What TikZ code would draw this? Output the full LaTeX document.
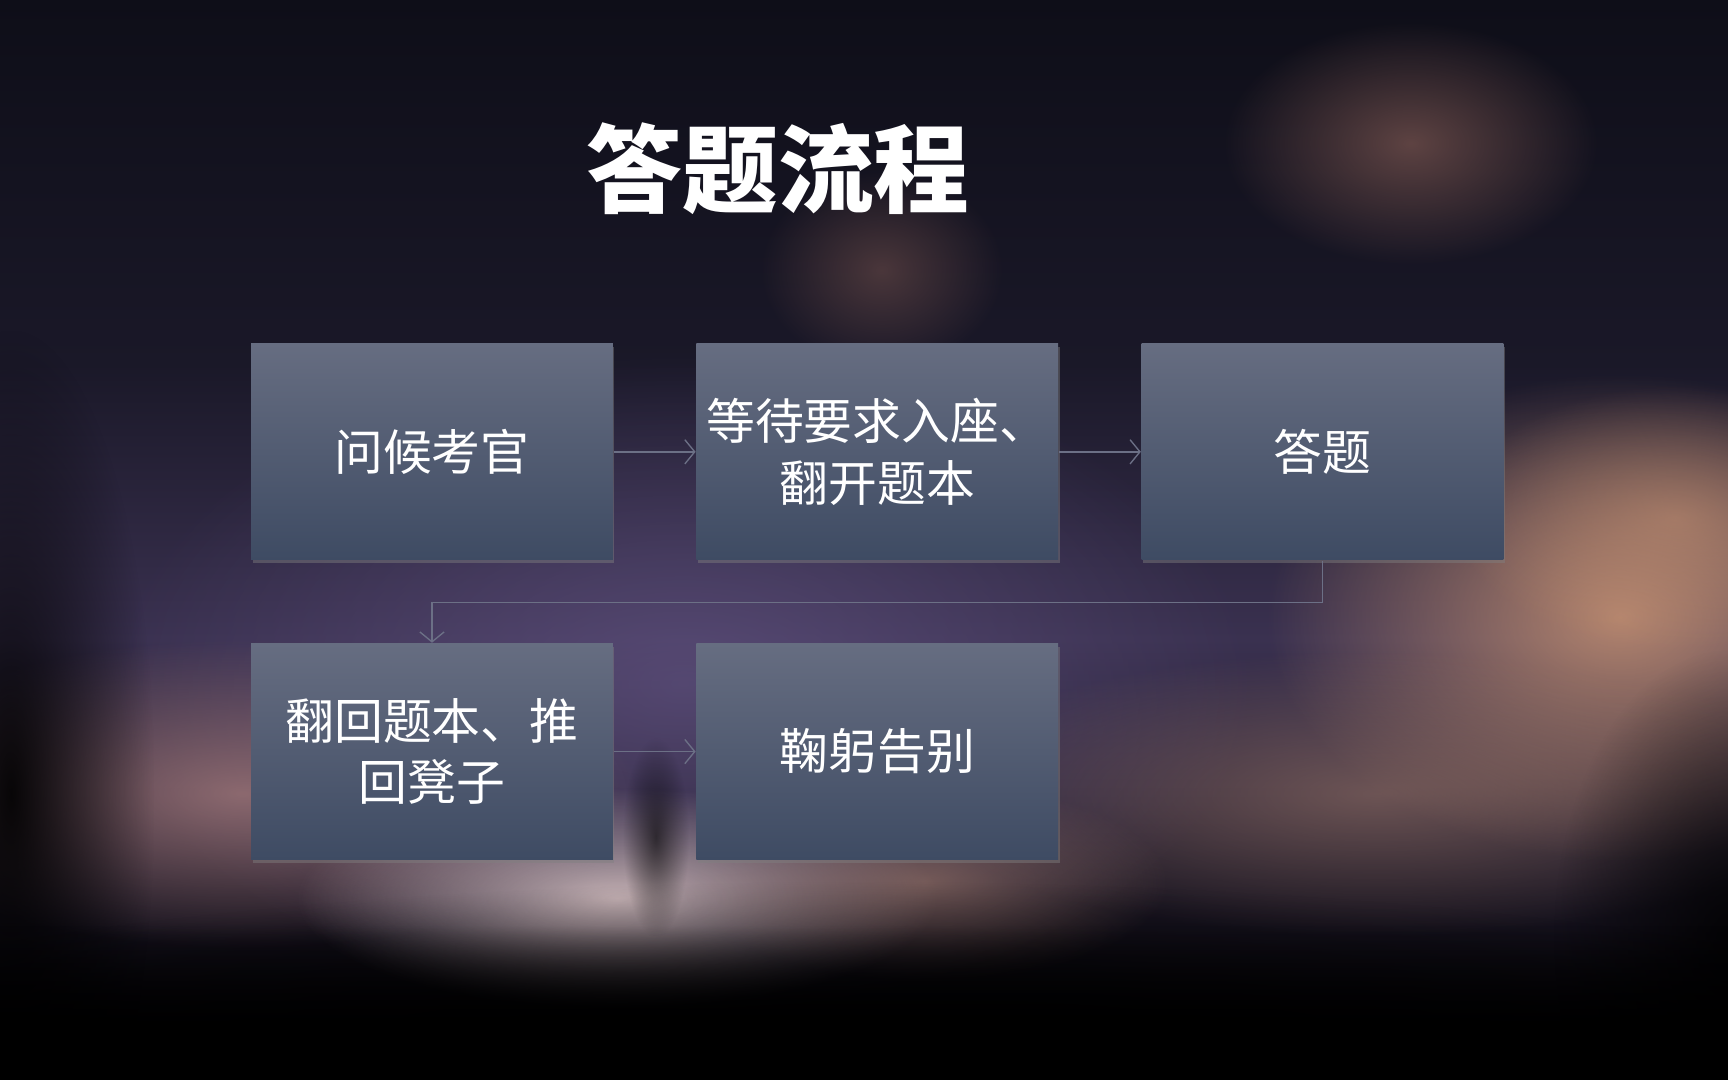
\documentclass[tikz,border=0pt]{standalone}
\usepackage{fontspec}
\setmainfont{Noto Sans CJK SC}
\newfontfamily\cjk{Noto Sans CJK SC}
\usetikzlibrary{arrows.meta,fadings,shadows}
\definecolor{bgtop}{HTML}{0E0E18}
\definecolor{bgtop2}{HTML}{1A1828}
\definecolor{bgmid}{HTML}{3A3150}
\definecolor{boxtop}{HTML}{666D81}
\definecolor{boxmid}{HTML}{4A566C}
\definecolor{boxbot}{HTML}{3E4B63}
\definecolor{connc}{HTML}{6C7086}
\definecolor{gpurple}{HTML}{6A5A8C}
\definecolor{gbrown}{HTML}{7E5852}
\definecolor{gorange}{HTML}{D29A76}
\definecolor{gpink}{HTML}{A47A7C}
\definecolor{gwhite}{HTML}{E0CACA}
\definecolor{gwarm}{HTML}{A88070}
\tikzfading[name=glow, inner color=transparent!0, outer color=transparent!100]
\newcommand\myglow[6]{\fill[#1, opacity=#6, path fading=glow] ({#2-#4},{#3-#5}) rectangle ({#2+#4},{#3+#5});}
\tikzset{
  boxst/.style={minimum width=3.28cm, minimum height=1.96cm, inner sep=0pt,
    top color=boxtop, middle color=boxmid, bottom color=boxbot,
    text=white, font=\cjk\fontsize{12.6}{15.9}\selectfont, align=center,
    drop shadow={shadow xshift=0.015cm, shadow yshift=-0.03cm, opacity=0.45}},
  conn/.style={draw=connc, line width=0.35pt, -{Straight Barb[length=0.09cm, width=0.22cm, line width=0.35pt]}},
  titlest/.style={text=white, font=\cjk\bfseries\fontsize{24.7}{28}\selectfont}
}
\begin{document}
\begin{tikzpicture}[x=0.01cm, y=-0.01cm]
\useasboundingbox (0,0) rectangle (1568,980);
\begin{scope}
\clip (0,0) rectangle (1568,980);
% base
\shade[top color=bgtop, bottom color=bgtop2] (0,0) rectangle (1568,330);
\shade[top color=bgtop2, bottom color=bgmid] (0,330) rectangle (1568,580);
\shade[top color=bgmid, bottom color=black] (0,580) rectangle (1568,980);
% glows
\myglow{gpurple}{620}{620}{520}{300}{0.6}
\myglow{gbrown}{1280}{130}{170}{110}{0.7}
\myglow{gbrown}{800}{245}{110}{90}{0.5}
\myglow{gorange}{1470}{560}{320}{220}{0.8}
\myglow{gorange}{1520}{470}{200}{120}{0.5}
\myglow{gpink}{220}{720}{360}{140}{0.8}
\myglow{gwarm}{1250}{720}{420}{130}{0.55}
\myglow{gwhite}{560}{815}{290}{100}{0.85}
\myglow{gwarm}{840}{800}{220}{90}{0.6}
% dark silhouette
\myglow{black}{780}{1010}{1150}{210}{1}
\myglow{black}{10}{720}{130}{420}{0.9}
\myglow{black}{1570}{850}{160}{260}{0.8}
\fill[black, path fading=north] (0,840) rectangle (1568,940);
\fill[black] (0,935) rectangle (1568,980);
\myglow{black}{595}{760}{30}{90}{0.6}
\end{scope}
% title
\node[titlest] (title) at (706,153) {答题流程};
% boxes
\node[boxst] (b1) at (392,410) {问候考官};
\node[boxst] (b2) at (796,410) {等待要求入座、\\翻开题本};
\node[boxst] (b3) at (1200,410) {答题};
\node[boxst] (b4) at (392,682) {翻回题本、推\\回凳子};
\node[boxst] (b5) at (796,682) {鞠躬告别};
% connectors
\draw[conn] (b1) -- (b2);
\draw[conn] (b2) -- (b3);
\draw[conn] (b3.south) -- ++(0,38) -| (b4.north);
\draw[conn] (b4) -- (b5);
\end{tikzpicture}
\end{document}
